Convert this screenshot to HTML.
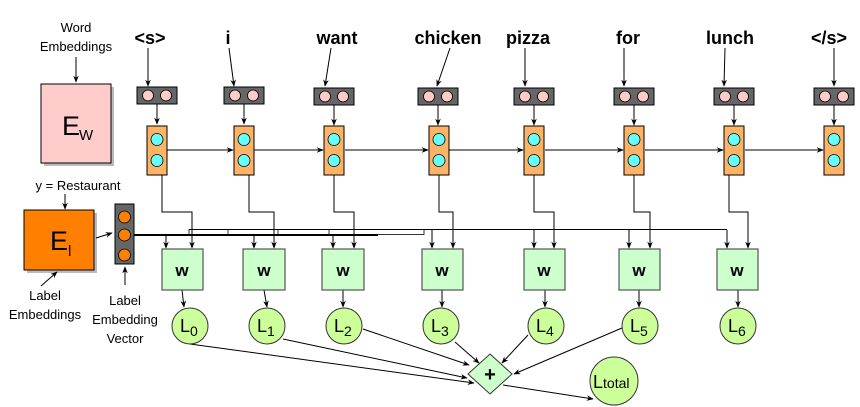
<!DOCTYPE html>
<html><head><style>
html,body{margin:0;padding:0;background:#fff;}
svg{display:block;font-family:"Liberation Sans",Arial,sans-serif;}
</style></head><body>
<svg width="860" height="407" viewBox="0 0 860 407" xmlns="http://www.w3.org/2000/svg">
<defs>
<marker id="a" viewBox="0 0 10 10" refX="9" refY="5" markerWidth="7" markerHeight="7" orient="auto-start-reverse"><path d="M0,1 L10,5 L0,9 L3,5 z" fill="#000"/></marker>
<g id="emb"><rect width="40" height="17" fill="#666" stroke="#000"/><circle cx="11" cy="8.5" r="5.5" fill="#ffcccc" stroke="#000" stroke-width="0.8"/><circle cx="29" cy="8.5" r="5.5" fill="#ffcccc" stroke="#000" stroke-width="0.8"/></g>
<g id="rnn"><rect width="20" height="49" fill="#ffb366" stroke="#000"/><circle cx="10" cy="13.5" r="6" fill="#66ffff" stroke="#000" stroke-width="0.8"/><circle cx="10" cy="34.5" r="6" fill="#66ffff" stroke="#000" stroke-width="0.8"/></g>
</defs>
<!-- Word embeddings -->
<text x="76" y="32" font-size="13" text-anchor="middle">Word</text>
<text x="76" y="51" font-size="13" text-anchor="middle">Embeddings</text>
<line x1="76" y1="57" x2="76" y2="82" stroke="#000" stroke-width="1" marker-end="url(#a)"/>
<rect x="44" y="87" width="70" height="79" fill="#bbb"/>
<rect x="41" y="84" width="70" height="79" fill="#ffcccc" stroke="#000"/>
<text x="62" y="135" font-size="27">E</text><text x="79" y="140" font-size="15">W</text>

<text x="78" y="190" font-size="13" text-anchor="middle">y = Restaurant</text>
<line x1="65" y1="194" x2="65" y2="209" stroke="#000" marker-end="url(#a)"/>
<rect x="27" y="213" width="70" height="60" fill="#bbb"/>
<rect x="24" y="210" width="70" height="60" fill="#ff8000" stroke="#000"/>
<text x="50" y="250" font-size="27">E</text><text x="68" y="256" font-size="15">l</text>
<line x1="96" y1="238" x2="112" y2="233" stroke="#000" marker-end="url(#a)"/>
<line x1="41" y1="286" x2="57" y2="272" stroke="#000" marker-end="url(#a)"/>
<text x="45" y="300" font-size="13" text-anchor="middle">Label</text>
<text x="45" y="319" font-size="13" text-anchor="middle">Embeddings</text>

<rect x="115" y="204" width="19" height="60" fill="#666" stroke="#000"/>
<circle cx="124.5" cy="217" r="6" fill="#ff8000" stroke="#000" stroke-width="0.8"/>
<circle cx="124.5" cy="235" r="6" fill="#ff8000" stroke="#000" stroke-width="0.8"/>
<circle cx="124.5" cy="255" r="6" fill="#ff8000" stroke="#000" stroke-width="0.8"/>
<line x1="125" y1="285" x2="125" y2="267" stroke="#000" marker-end="url(#a)"/>
<text x="125" y="305" font-size="13" text-anchor="middle">Label</text>
<text x="125" y="324" font-size="13" text-anchor="middle">Embedding</text>
<text x="125" y="343" font-size="13" text-anchor="middle">Vector</text>

<!-- label bus -->
<rect x="189" y="229.5" width="235" height="5" fill="none" stroke="#000" stroke-width="0.8"/>
<line x1="228" y1="229.5" x2="228" y2="234.5" stroke="#000" stroke-width="0.8"/>
<line x1="278" y1="229.5" x2="278" y2="234.5" stroke="#000" stroke-width="0.8"/>
<line x1="329" y1="229.5" x2="329" y2="234.5" stroke="#000" stroke-width="0.8"/>
<line x1="189" y1="229.5" x2="727" y2="229.5" stroke="#000" stroke-width="1"/>
<line x1="134" y1="235" x2="378" y2="235" stroke="#000" stroke-width="2"/>

<g stroke="#000" stroke-width="1" fill="none">
<!-- word arrows -->
<line x1="148" y1="48" x2="148" y2="86" marker-end="url(#a)"/>
<line x1="229" y1="48" x2="234" y2="86" marker-end="url(#a)"/>
<line x1="331" y1="48" x2="325" y2="86" marker-end="url(#a)"/>
<line x1="450" y1="48" x2="437" y2="86" marker-end="url(#a)"/>
<line x1="525" y1="48" x2="525" y2="86" marker-end="url(#a)"/>
<line x1="624" y1="48" x2="624" y2="86" marker-end="url(#a)"/>
<line x1="725" y1="48" x2="724" y2="86" marker-end="url(#a)"/>
<line x1="834" y1="48" x2="834" y2="86" marker-end="url(#a)"/>
<!-- emb to rnn -->
<line x1="157" y1="104" x2="157" y2="124" marker-end="url(#a)"/>
<line x1="244" y1="104" x2="244" y2="124" marker-end="url(#a)"/>
<line x1="334" y1="105" x2="334" y2="125" marker-end="url(#a)"/>
<line x1="438" y1="105" x2="438" y2="125" marker-end="url(#a)"/>
<line x1="534" y1="105" x2="534" y2="125" marker-end="url(#a)"/>
<line x1="634" y1="105" x2="634" y2="125" marker-end="url(#a)"/>
<line x1="734" y1="105" x2="734" y2="125" marker-end="url(#a)"/>
<line x1="834" y1="105" x2="834" y2="125" marker-end="url(#a)"/>
<!-- recurrent -->
<line x1="167" y1="150" x2="233" y2="150" marker-end="url(#a)"/>
<line x1="254" y1="150" x2="323" y2="150" marker-end="url(#a)"/>
<line x1="345" y1="150" x2="428" y2="150" marker-end="url(#a)"/>
<line x1="448" y1="150" x2="523" y2="150" marker-end="url(#a)"/>
<line x1="545" y1="150" x2="623" y2="150" marker-end="url(#a)"/>
<line x1="645" y1="150" x2="723" y2="150" marker-end="url(#a)"/>
<line x1="745" y1="150" x2="823" y2="150" marker-end="url(#a)"/>
<!-- rnn to W -->
<polyline points="162,175 162,212 192,212 192,248" marker-end="url(#a)"/>
<polyline points="249,175 249,212 274,212 274,248" marker-end="url(#a)"/>
<polyline points="334,175 334,212 354,212 354,248" marker-end="url(#a)"/>
<polyline points="439,175 439,212 453,212 453,248" marker-end="url(#a)"/>
<polyline points="534,175 534,212 554,212 554,248" marker-end="url(#a)"/>
<polyline points="634,175 634,212 650,212 650,248" marker-end="url(#a)"/>
<polyline points="729,175 729,212 748,212 748,248" marker-end="url(#a)"/>
<!-- label to W -->
<line x1="166" y1="235" x2="166" y2="248" marker-end="url(#a)"/>
<line x1="254" y1="235" x2="254" y2="248" marker-end="url(#a)"/>
<line x1="333" y1="235" x2="333" y2="248" marker-end="url(#a)"/>
<line x1="432" y1="230" x2="432" y2="248" marker-end="url(#a)"/>
<line x1="534" y1="230" x2="534" y2="248" marker-end="url(#a)"/>
<line x1="629" y1="230" x2="629" y2="248" marker-end="url(#a)"/>
<line x1="727" y1="230" x2="727" y2="248" marker-end="url(#a)"/>
<!-- W to L -->
<line x1="182" y1="290" x2="184" y2="307" marker-end="url(#a)"/>
<line x1="264" y1="290" x2="267" y2="307" marker-end="url(#a)"/>
<line x1="343" y1="290" x2="343" y2="307" marker-end="url(#a)"/>
<line x1="442" y1="290" x2="442" y2="307" marker-end="url(#a)"/>
<line x1="545" y1="290" x2="545" y2="307" marker-end="url(#a)"/>
<line x1="639" y1="290" x2="639" y2="307" marker-end="url(#a)"/>
<line x1="738" y1="290" x2="738" y2="307" marker-end="url(#a)"/>
<!-- L to plus -->
<line x1="190" y1="344" x2="474" y2="383" marker-end="url(#a)"/>
<line x1="283" y1="339" x2="467" y2="378" marker-end="url(#a)"/>
<line x1="363" y1="329" x2="469" y2="365" marker-end="url(#a)"/>
<line x1="455" y1="342" x2="479" y2="363" marker-end="url(#a)"/>
<line x1="528" y1="335" x2="502" y2="363" marker-end="url(#a)"/>
<line x1="622" y1="328" x2="514" y2="374" marker-end="url(#a)"/>
<line x1="503" y1="385" x2="593" y2="399" marker-end="url(#a)"/>
</g>

<!-- word labels -->
<g font-size="18" font-weight="bold" text-anchor="middle">
<text x="150" y="44">&lt;s&gt;</text>
<text x="228" y="44">i</text>
<text x="337" y="44">want</text>
<text x="448" y="44">chicken</text>
<text x="528" y="44">pizza</text>
<text x="628" y="44">for</text>
<text x="730" y="44">lunch</text>
<text x="829" y="44">&lt;/s&gt;</text>
</g>

<!-- embedding boxes -->
<use href="#emb" x="137" y="87"/>
<use href="#emb" x="224" y="87"/>
<use href="#emb" x="314" y="88"/>
<use href="#emb" x="418" y="88"/>
<use href="#emb" x="514" y="88"/>
<use href="#emb" x="614" y="88"/>
<use href="#emb" x="714" y="88"/>
<use href="#emb" x="814" y="88"/>

<!-- rnn boxes -->
<use href="#rnn" x="147" y="126"/>
<use href="#rnn" x="234" y="126"/>
<use href="#rnn" x="324" y="126"/>
<use href="#rnn" x="429" y="126"/>
<use href="#rnn" x="524" y="126"/>
<use href="#rnn" x="624" y="126"/>
<use href="#rnn" x="724" y="126"/>
<use href="#rnn" x="824" y="126"/>

<!-- W boxes -->
<g fill="#ccffcc" stroke="#555" stroke-width="1.2">
<rect x="162" y="249" width="41" height="41"/>
<rect x="243" y="249" width="42" height="41"/>
<rect x="322" y="249" width="42" height="41"/>
<rect x="422" y="249" width="41" height="41"/>
<rect x="524" y="249" width="41" height="41"/>
<rect x="619" y="249" width="41" height="41"/>
<rect x="717" y="249" width="41" height="41"/>
</g>
<g font-size="17" font-weight="bold" text-anchor="middle">
<text x="182" y="276">w</text><text x="264" y="276">w</text><text x="343" y="276">w</text>
<text x="442" y="276">w</text><text x="544" y="276">w</text><text x="639" y="276">w</text><text x="737" y="276">w</text>
</g>

<!-- L circles -->
<g fill="#ccff99" stroke="#333" stroke-width="1">
<circle cx="190" cy="326" r="18"/><circle cx="267" cy="326" r="18"/><circle cx="344" cy="326" r="18"/>
<circle cx="441" cy="326" r="18"/><circle cx="546" cy="326" r="18"/><circle cx="640" cy="326" r="18"/><circle cx="738" cy="326" r="18"/>
<circle cx="614" cy="381" r="24"/>
</g>
<g font-size="18">
<text x="180" y="332">L<tspan font-size="14" dy="4">0</tspan></text>
<text x="257" y="332">L<tspan font-size="14" dy="4">1</tspan></text>
<text x="334" y="332">L<tspan font-size="14" dy="4">2</tspan></text>
<text x="431" y="332">L<tspan font-size="14" dy="4">3</tspan></text>
<text x="536" y="332">L<tspan font-size="14" dy="4">4</tspan></text>
<text x="630" y="332">L<tspan font-size="14" dy="4">5</tspan></text>
<text x="728" y="332">L<tspan font-size="14" dy="4">6</tspan></text>
<text x="593" y="388">L<tspan font-size="14">total</tspan></text>
</g>

<!-- plus diamond -->
<polygon points="490,354 512,374 490,394 468,374" fill="#ccffcc" stroke="#333"/>
<text x="490" y="381" font-size="20" font-weight="bold" text-anchor="middle">+</text>
</svg>
</body></html>
